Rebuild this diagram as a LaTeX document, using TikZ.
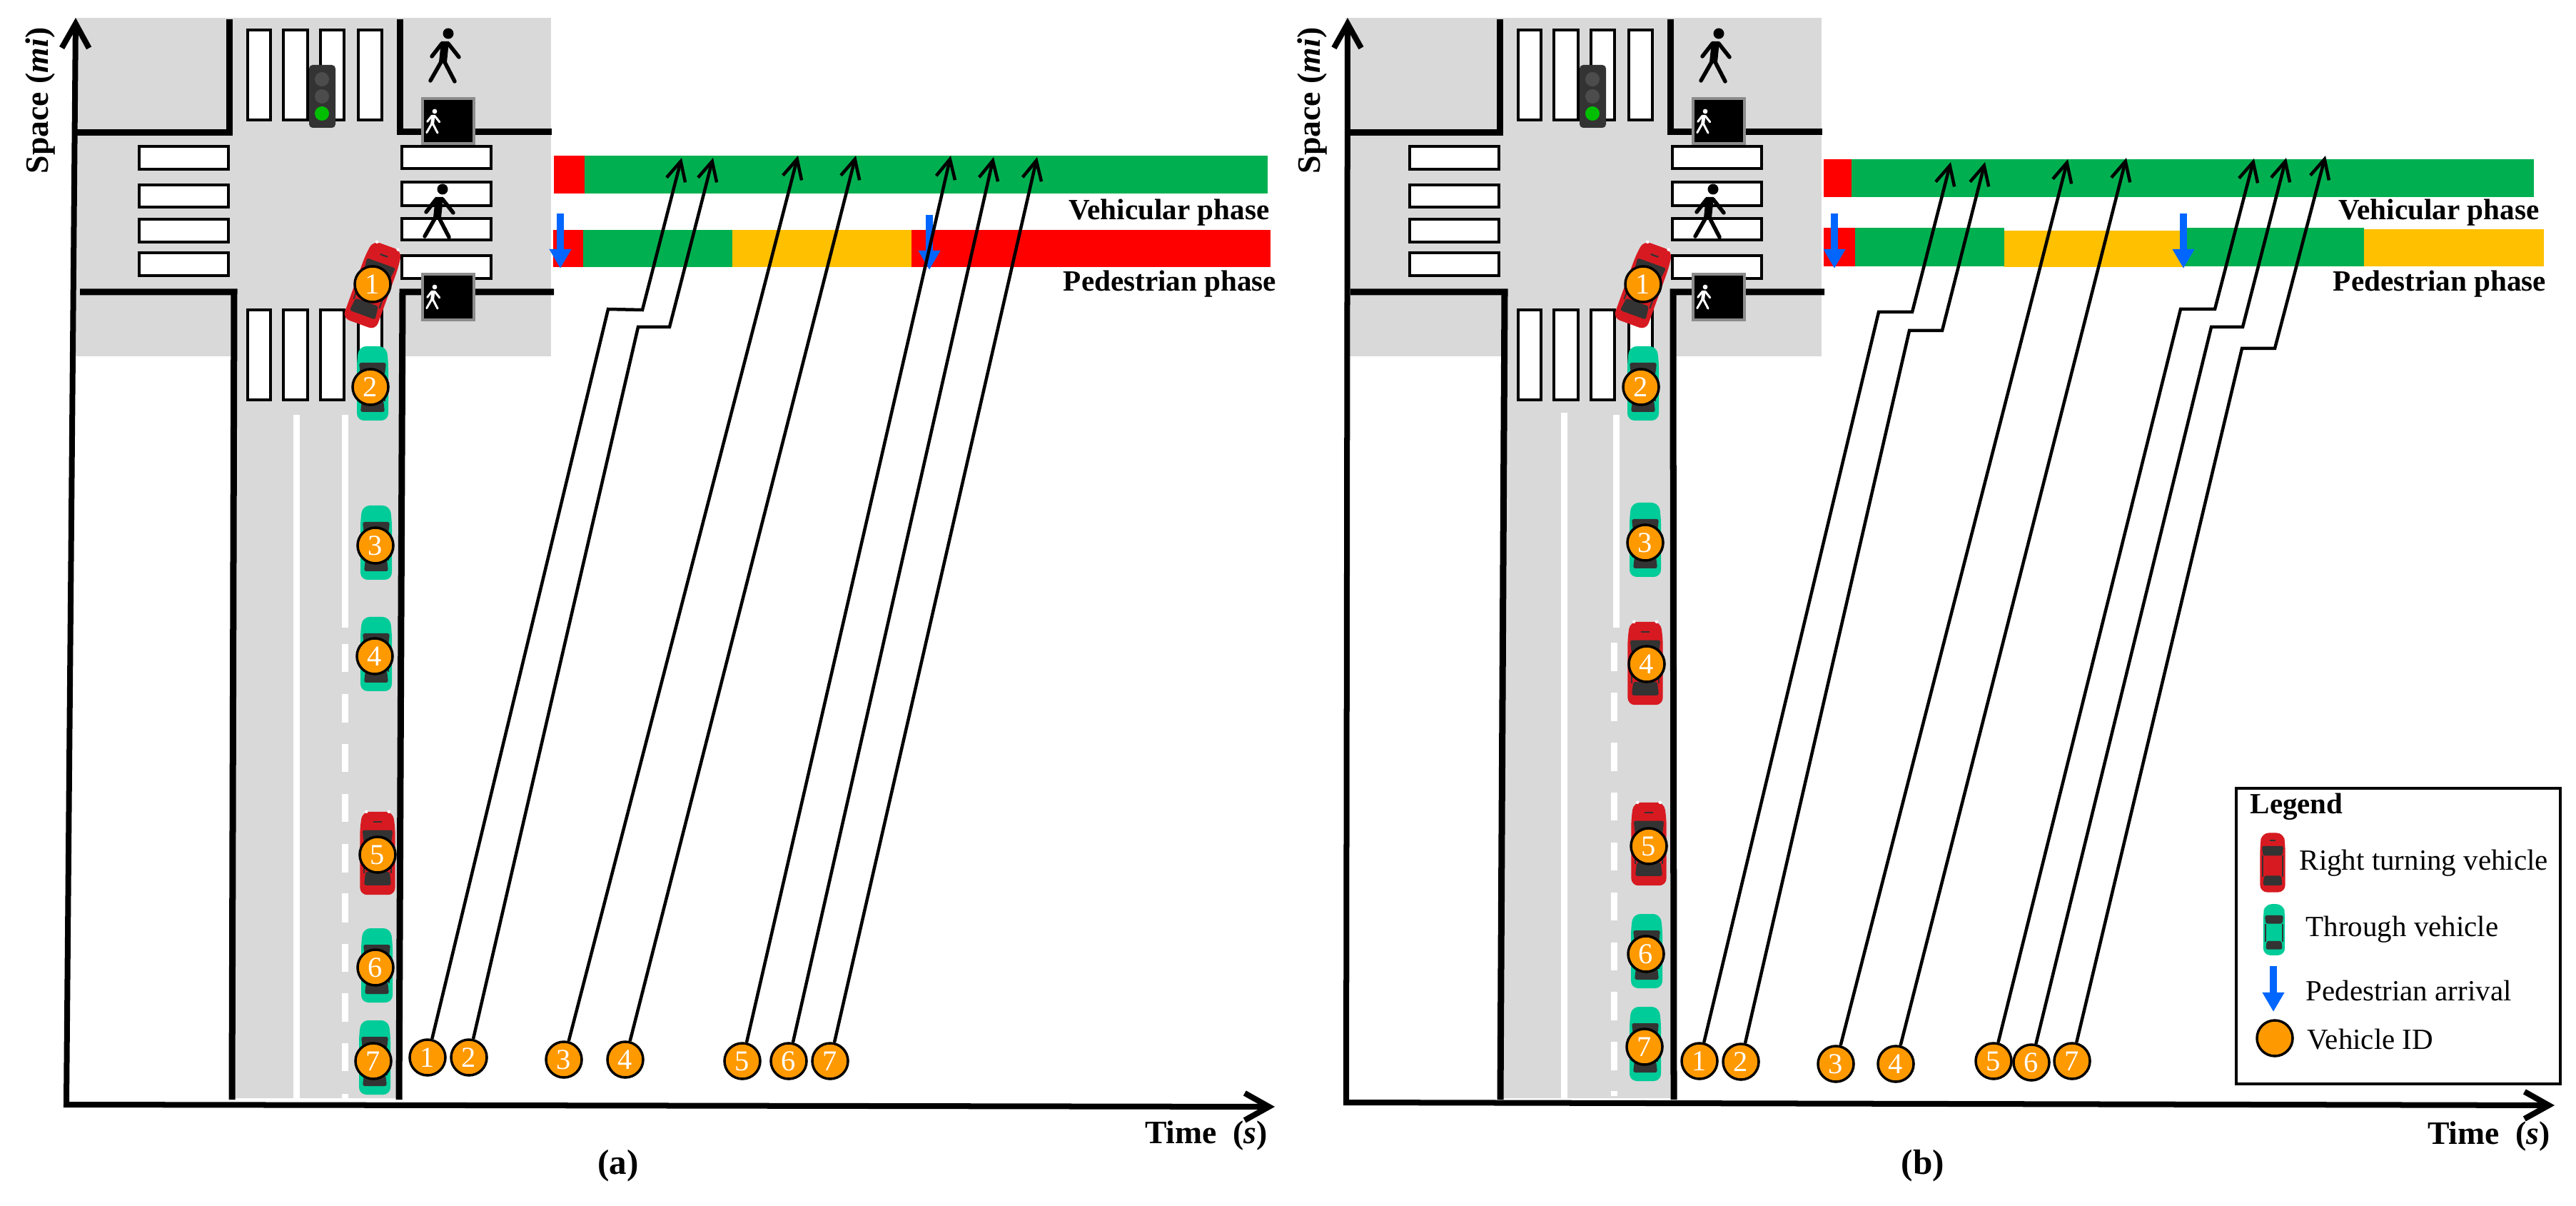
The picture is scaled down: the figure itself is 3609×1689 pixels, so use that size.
\documentclass[tikz,border=0pt]{standalone}
\usepackage{fontspec}
\setmainfont{Liberation Serif}
\usetikzlibrary{arrows.meta}

\definecolor{roadgrey}{HTML}{D9D9D9}
\definecolor{phgreen}{HTML}{00B050}
\definecolor{phred}{HTML}{FF0000}
\definecolor{phyellow}{HTML}{FFC000}
\definecolor{arrowblue}{HTML}{0066FF}
\definecolor{idorange}{HTML}{FF9900}
\definecolor{carred}{HTML}{D71A21}
\definecolor{cargreen}{HTML}{00CC99}
\definecolor{cardark}{HTML}{333333}

\newcommand{\carshape}{
    \fill[pic actions, rounded corners=0.1cm] (-19,-52) -- (19,-52) -- (22,-32) -- (22,52) -- (-22,52) -- (-22,-32) -- cycle;
    \fill[cardark, rounded corners=0.03cm] (-19,-29) -- (19,-29) -- (17,-12) -- (-17,-12) -- cycle;
    \fill[cardark, rounded corners=0.03cm] (-15,23) -- (15,23) -- (17,40) -- (-17,40) -- cycle;
    \draw[cardark, line width=0.02cm] (-17,-12) -- (-17,25) (17,-12) -- (17,25);
}

\begin{document}
\begin{tikzpicture}[
    x=0.01cm, y=-0.01cm,
    road/.style={fill=roadgrey},
    curb/.style={draw=black, line width=0.09cm},
    crosswalk/.style={draw=black, fill=white, line width=0.04cm},
    laneline/.style={draw=white, line width=0.09cm},
    sigbox/.style={draw=black!45, fill=black, line width=0.045cm},
    axisline/.style={draw=black, line width=0.08cm, {Straight Barb[length=0.34cm,width=0.38cm]}-{Straight Barb[length=0.34cm,width=0.38cm]}},
    traj/.style={draw=black, line width=0.045cm, -{Straight Barb[length=0.27cm,width=0.27cm]}},
    pedarrow/.style={draw=arrowblue, line width=0.1cm, -{Triangle[length=0.27cm,width=0.29cm]}},
    vid/.style={circle, draw=black, fill=idorange, line width=0.035cm, minimum size=0.5cm, inner sep=0pt, text=white, font=\fontsize{11.5}{12}\selectfont},
    phaselabel/.style={font=\fontsize{11.7}{14}\selectfont\bfseries},
    axislabel/.style={font=\fontsize{13}{15}\selectfont\bfseries},
    sublabel/.style={font=\fontsize{14}{16}\selectfont\bfseries},
    legendtext/.style={anchor=west, inner sep=0pt, font=\fontsize{11.65}{14}\selectfont},
    legendbox/.style={rectangle, draw=black, line width=0.035cm, minimum width=4.54cm, minimum height=4.14cm},
    walker/.pic={
        \fill[pic actions] (0,0) circle[radius=7.5];
        \fill[pic actions] (-10,11) -- (1,11) -- (-2,40) -- (-13,40) -- cycle;
        \draw[pic actions, line cap=round, line join=round] (-9,14) -- (-23,32) (0,14) -- (15,33) (-9,38) -- (-25,66) (-6,38) -- (9,67);
    },
    vehicle/.pic={\carshape},
    redcar/.pic={
        \carshape
        \fill[cardark] (-5,-40) rectangle (5,-38);
        \fill[white] (-14,-52) circle[radius=2] (14,-52) circle[radius=2];
    },
    crossing/.pic={
        \fill[road] (105,25) rectangle (772,499);
        \draw[crosswalk] (347,42) rectangle (379,168) (397,42) rectangle (431,168) (449,42) rectangle (482,168) (502,42) rectangle (535,168);
        \draw[crosswalk] (347,434) rectangle (379,560) (397,434) rectangle (431,560) (449,434) rectangle (482,560) (502,434) rectangle (535,560);
        \draw[crosswalk] (195,205) rectangle (320,237) (195,259) rectangle (320,290) (195,307) rectangle (320,339) (195,354) rectangle (320,386);
        \draw[crosswalk] (563,205) rectangle (688,236) (563,255) rectangle (688,288) (563,306) rectangle (688,336) (563,358) rectangle (688,390);
        \draw[curb] (321,27) -- (321,186) -- (106,186);
        \draw[curb] (560,27) -- (560,185) -- (773,185);
    },
    signals/.pic={
        % traffic light
        \fill[cardark, rounded corners=0.05cm] (433,91) rectangle (470,179);
        \fill[black!70] (451,111) circle[radius=10] (451,135) circle[radius=10];
        \fill[green!75!black] (451,159) circle[radius=10];
        % pedestrians
        \pic[black, line width=0.055cm] at (628,47) {walker};
        \pic[black, line width=0.055cm] at (620,265) {walker};
        % pedestrian signals
        \draw[sigbox] (592,138) rectangle (664,201);
        \draw[sigbox] (592,384) rectangle (664,448);
        \pic[white, scale=0.45, line width=0.03cm] at (609,156) {walker};
        \pic[white, scale=0.45, line width=0.03cm] at (609,402) {walker};
    }
]
    \useasboundingbox (0,0) rectangle (3609,1689);

    % Panel (a) road and crossing
    \fill[road] (328,495) -- (564,495) -- (560,1538) -- (325,1538) -- cycle;
    \pic at (0,0) {crossing};
    \draw[laneline] (415,581) -- (415,1538);
    \draw[laneline] (483,581) -- (483,879) (483,902) -- (483,941) (483,972) -- (483,1012) (483,1042) -- (483,1081) (483,1112) -- (483,1151) (483,1182) -- (483,1222) (483,1251) -- (483,1292) (483,1322) -- (483,1361) (483,1391) -- (483,1431) (483,1461) -- (483,1500) (483,1532) -- (483,1538);
    \draw[curb] (112,409) -- (328,409) -- (325,1540);
    \draw[curb] (776,409) -- (564,409) -- (559,1540);
    \pic at (0,0) {signals};

    % Panel (a) vehicles on the road
    \pic[fill=carred, scale=1.12, rotate=-20] at (523,399) {redcar};
    \pic[fill=cargreen] at (522,537) {vehicle};
    \pic[fill=cargreen] at (527,760) {vehicle};
    \pic[fill=cargreen] at (527,916) {vehicle};
    \pic[fill=carred, scale=1.12] at (529,1195) {redcar};
    \pic[fill=cargreen] at (528,1352) {vehicle};
    \pic[fill=cargreen] at (525,1481) {vehicle};
    \node[vid] (ac1) at (522,398) {1};
    \node[vid] (ac2) at (519,542) {2};
    \node[vid] (ac3) at (526,764) {3};
    \node[vid] (ac4) at (525,919) {4};
    \node[vid] (ac5) at (529,1197) {5};
    \node[vid] (ac6) at (526,1355) {6};
    \node[vid] (ac7) at (523,1486) {7};

    % Panel (a) phase bars
    \fill[phred] (776,218) rectangle (819,271);
    \fill[phgreen] (819,218) rectangle (1776,271);
    \fill[phred] (775,322) rectangle (817,374);
    \fill[phgreen] (817,322) rectangle (1026,374);
    \fill[phyellow] (1026,322) rectangle (1277,374);
    \fill[phred] (1277,322) rectangle (1780,374);
    \node[phaselabel] (avlab) at (1638,298) {Vehicular phase};
    \node[phaselabel] (aplab) at (1639,398) {Pedestrian phase};

    % Panel (a) pedestrian arrivals
    \coordinate (apa1) at (785,299);
    \coordinate (apa1tip) at (785,376);
    \coordinate (apa2) at (1302,301);
    \coordinate (apa2tip) at (1302,378);
    \draw[pedarrow] (apa1) -- (apa1tip);
    \draw[pedarrow] (apa2) -- (apa2tip);

    % Panel (a) trajectories
    \node[vid] (at1) at (599,1481) {1};
    \node[vid] (at2) at (657,1481) {2};
    \node[vid] (at3) at (790,1484) {3};
    \node[vid] (at4) at (876,1484) {4};
    \node[vid] (at5) at (1040,1486) {5};
    \node[vid] (at6) at (1105,1486) {6};
    \node[vid] (at7) at (1163,1486) {7};
    \coordinate (ak1a) at (852,433);
    \coordinate (ak1b) at (900,434);
    \coordinate (ak2a) at (894,458);
    \coordinate (ak2b) at (938,458);
    \coordinate (ae1) at (955,221);
    \coordinate (ae2) at (999,221);
    \coordinate (ae3) at (1118,218);
    \coordinate (ae4) at (1199,218);
    \coordinate (ae5) at (1332,218);
    \coordinate (ae6) at (1392,220);
    \coordinate (ae7) at (1453,220);
    \draw[traj] (at1) -- (ak1a) -- (ak1b) -- (ae1);
    \draw[traj] (at2) -- (ak2a) -- (ak2b) -- (ae2);
    \draw[traj] (at3) -- (ae3);
    \draw[traj] (at4) -- (ae4);
    \draw[traj] (at5) -- (ae5);
    \draw[traj] (at6) -- (ae6);
    \draw[traj] (at7) -- (ae7);

    % Panel (a) axes
    \coordinate (aytip) at (106,25);
    \coordinate (aorig) at (93,1547);
    \coordinate (axtip) at (1786,1550);
    \draw[axisline] (aytip) -- (aorig) -- (axtip);
    \node[axislabel, rotate=90] (aspace) at (57,141) {Space (\textit{mi})};
    \node[axislabel] (atime) at (1690,1590) {Time\ \ (\textit{s})};
    \node[sublabel] (asub) at (866,1633) {(a)};

    % Panel (b) road and crossing
    \fill[road] (2108,495) -- (2344,495) -- (2345,1538) -- (2102,1538) -- cycle;
    \pic at (1780,0) {crossing};
    \draw[laneline] (2191,578) -- (2191,1542);
    \draw[laneline] (2264,581) -- (2264,879);
    \draw[laneline] (2261,900) -- (2261,940) (2261,970) -- (2261,1010) (2261,1040) -- (2261,1080) (2261,1110) -- (2261,1149) (2261,1180) -- (2261,1219) (2261,1250) -- (2261,1289) (2261,1320) -- (2261,1359) (2261,1389) -- (2261,1429) (2261,1459) -- (2261,1499) (2261,1528) -- (2261,1535);
    \draw[curb] (1892,409) -- (2108,409) -- (2102,1540);
    \draw[curb] (2556,409) -- (2344,409) -- (2345,1540);
    \pic at (1780,0) {signals};

    % Panel (b) vehicles on the road
    \pic[fill=carred, scale=1.12, rotate=-20] at (2303,399) {redcar};
    \pic[fill=cargreen] at (2302,537) {vehicle};
    \pic[fill=cargreen] at (2305,756) {vehicle};
    \pic[fill=carred, scale=1.12] at (2305,929) {redcar};
    \pic[fill=carred, scale=1.12] at (2310,1182) {redcar};
    \pic[fill=cargreen] at (2307,1332) {vehicle};
    \pic[fill=cargreen] at (2305,1462) {vehicle};
    \node[vid] (bc1) at (2302,398) {1};
    \node[vid] (bc2) at (2299,542) {2};
    \node[vid] (bc3) at (2305,760) {3};
    \node[vid] (bc4) at (2307,930) {4};
    \node[vid] (bc5) at (2310,1185) {5};
    \node[vid] (bc6) at (2306,1336) {6};
    \node[vid] (bc7) at (2304,1466) {7};

    % Panel (b) phase bars
    \fill[phred] (2555,223) rectangle (2594,276);
    \fill[phgreen] (2594,223) rectangle (3550,276);
    \fill[phred] (2555,319) rectangle (2599,373);
    \fill[phgreen] (2599,319) rectangle (2808,373);
    \fill[phyellow] (2808,323) rectangle (3059,374);
    \fill[phgreen] (3059,319) rectangle (3312,373);
    \fill[phyellow] (3312,321) rectangle (3564,373);
    \node[phaselabel] (bvlab) at (3417,298) {Vehicular phase};
    \node[phaselabel] (bplab) at (3418,398) {Pedestrian phase};

    % Panel (b) pedestrian arrivals
    \coordinate (bpa1) at (2570,299);
    \coordinate (bpa1tip) at (2570,376);
    \coordinate (bpa2) at (3059,299);
    \coordinate (bpa2tip) at (3059,376);
    \draw[pedarrow] (bpa1) -- (bpa1tip);
    \draw[pedarrow] (bpa2) -- (bpa2tip);

    % Panel (b) trajectories
    \node[vid] (bt1) at (2381,1486) {1};
    \node[vid] (bt2) at (2439,1487) {2};
    \node[vid] (bt3) at (2572,1490) {3};
    \node[vid] (bt4) at (2656,1490) {4};
    \node[vid] (bt5) at (2793,1486) {5};
    \node[vid] (bt6) at (2846,1488) {6};
    \node[vid] (bt7) at (2903,1486) {7};
    \coordinate (bk1a) at (2632,437);
    \coordinate (bk1b) at (2679,437);
    \coordinate (bk2a) at (2675,463);
    \coordinate (bk2b) at (2721,463);
    \coordinate (bk5a) at (3055,433);
    \coordinate (bk5b) at (3103,433);
    \coordinate (bk6a) at (3098,458);
    \coordinate (bk6b) at (3142,458);
    \coordinate (bk7a) at (3141,488);
    \coordinate (bk7b) at (3187,488);
    \coordinate (be1) at (2733,227);
    \coordinate (be2) at (2781,227);
    \coordinate (be3) at (2897,223);
    \coordinate (be4) at (2979,221);
    \coordinate (be5) at (3158,222);
    \coordinate (be6) at (3203,221);
    \coordinate (be7) at (3258,218);
    \draw[traj] (bt1) -- (bk1a) -- (bk1b) -- (be1);
    \draw[traj] (bt2) -- (bk2a) -- (bk2b) -- (be2);
    \draw[traj] (bt3) -- (be3);
    \draw[traj] (bt4) -- (be4);
    \draw[traj] (bt5) -- (bk5a) -- (bk5b) -- (be5);
    \draw[traj] (bt6) -- (bk6a) -- (bk6b) -- (be6);
    \draw[traj] (bt7) -- (bk7a) -- (bk7b) -- (be7);

    % Panel (b) axes
    \coordinate (bytip) at (1888,25);
    \coordinate (borig) at (1886,1544);
    \coordinate (bxtip) at (3579,1548);
    \draw[axisline] (bytip) -- (borig) -- (bxtip);
    \node[axislabel, rotate=90] (bspace) at (1838,141) {Space (\textit{mi})};
    \node[axislabel] (btime) at (3487,1591) {Time\ \ (\textit{s})};
    \node[sublabel] (bsub) at (2694,1633) {(b)};

    % Legend
    \node[legendbox] (legend) at (3360,1311) {};
    \node[legendtext, font=\fontsize{11.65}{14}\selectfont\bfseries] (legtitle) at (3152,1130) {Legend};
    \pic[fill=carred, scale=0.8] at (3184,1208) {redcar};
    \pic[fill=cargreen, scale=0.69] at (3186,1302) {vehicle};
    \coordinate (legarrow) at (3185,1353);
    \coordinate (legarrowtip) at (3185,1417);
    \draw[pedarrow] (legarrow) -- (legarrowtip);
    \node[vid] (legid) at (3187,1454) {};
    \node[legendtext] (legright) at (3221,1209) {Right turning vehicle};
    \node[legendtext] (legthrough) at (3230,1302) {Through vehicle};
    \node[legendtext] (legped) at (3230,1387) {Pedestrian arrival};
    \node[legendtext] (legvid) at (3232,1456) {Vehicle ID};

\end{tikzpicture}
\end{document}
